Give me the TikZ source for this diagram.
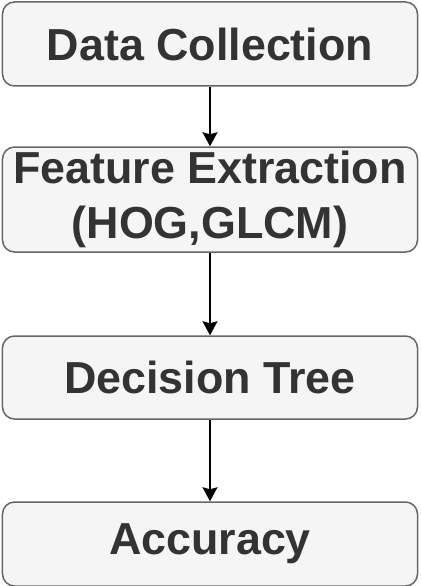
\documentclass[tikz,border=0pt]{standalone}
\usepackage{fontspec}
\setmainfont{Liberation Sans}
\usetikzlibrary{arrows.meta,positioning}
\definecolor{boxfill}{HTML}{F5F5F5}
\definecolor{boxline}{HTML}{666666}
\definecolor{boxtext}{HTML}{333333}

\begin{document}
\begin{tikzpicture}[
  x=1bp, y=1bp,
  stage/.style={draw=boxline, line width=1.5bp, rounded corners=12bp, fill=boxfill, text=boxtext, align=center, minimum width=415bp, minimum height=83bp, inner sep=0pt, font=\fontsize{45}{56}\selectfont\bfseries},
  arrow/.style={-{Stealth[length=14bp, width=15bp, inset=2bp]}, line width=1.6bp, black}
]
\useasboundingbox (0,0) rectangle (420,-586);
\node[stage, minimum height=84bp] (collect) at (210,-44) {Data Collection};
\node[stage, below=59.5bp of collect, minimum height=105bp] (extract) {Feature Extraction\\(HOG,GLCM)};
\node[stage, below=82.5bp of extract] (tree) {Decision Tree};
\node[stage, below=81.5bp of tree, minimum height=84bp] (result) {Accuracy};

\draw[arrow] (collect) -- (extract);
\draw[arrow] (extract) -- (tree);
\draw[arrow] (tree) -- (result);
\end{tikzpicture}
\end{document}
